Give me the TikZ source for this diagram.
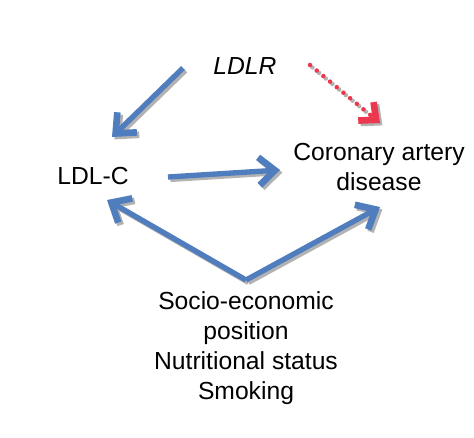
\documentclass[tikz,border=0pt]{standalone}
\usepackage{fontspec}
\setmainfont{Liberation Sans}
\usetikzlibrary{arrows.meta}
\definecolor{arrowblue}{RGB}{79,125,189}
\definecolor{arrowred}{RGB}{236,56,78}
\tikzset{
  label/.style={inner sep=0pt, font=\fontsize{18.5}{22.5}\selectfont},
  flow/.style={line width=4pt, draw=arrowblue, -{Straight Barb[length=12pt, width=21pt, line width=5pt]}},
  effect/.style={line width=3.4pt, draw=arrowred, line cap=round, dash pattern=on 0.01pt off 6.5pt,
    -{Straight Barb[length=10pt, width=18pt, line width=5pt, line cap=butt]}},
  shade/.style={draw=black!30, transform canvas={xshift=1.8pt, yshift=-1.8pt}}
}
\begin{document}
\begin{tikzpicture}[x=0.75pt,y=-0.75pt]
%\draw[step=50,gray,very thin] (0,0) grid (474,437);
\useasboundingbox (0,0) rectangle (474,437);
\node[label] (ldlr) at (245,66) {\itshape LDLR};
\node[label] (ldlc) at (93,176) {LDL-C};
\node[label, align=center] (cad) at (379,167) {Coronary artery\\disease};
\node[label, align=center] (conf) at (246,348) {Socio-economic\\position\\Nutritional status\\Smoking};
% arrow ends
\coordinate (apex) at ([shift={(0,-68)}]conf.center);
\coordinate (ldlr-out) at ([shift={(-62,2)}]ldlr.center);
\coordinate (ldlr-red) at ([shift={(65,-1)}]ldlr.center);
\coordinate (ldlc-in) at ([shift={(19,-39)}]ldlc.center);
\coordinate (ldlc-out) at ([shift={(75,1)}]ldlc.center);
\coordinate (ldlc-low) at ([shift={(14,24)}]ldlc.center);
\coordinate (cad-left) at ([shift={(-99,3)}]cad.center);
\coordinate (cad-low) at ([shift={(1,40)}]cad.center);
\coordinate (cad-top) at ([shift={(1,-44)}]cad.center);
\foreach \a/\b in {ldlr-out/ldlc-in, ldlc-out/cad-left, apex/ldlc-low, apex/cad-low}{
  \draw[flow, shade] (\a) -- (\b);
  \draw[flow] (\a) -- (\b);
}
\draw[effect, shade] (ldlr-red) -- (cad-top);
\draw[effect] (ldlr-red) -- (cad-top);
\end{tikzpicture}
\end{document}
